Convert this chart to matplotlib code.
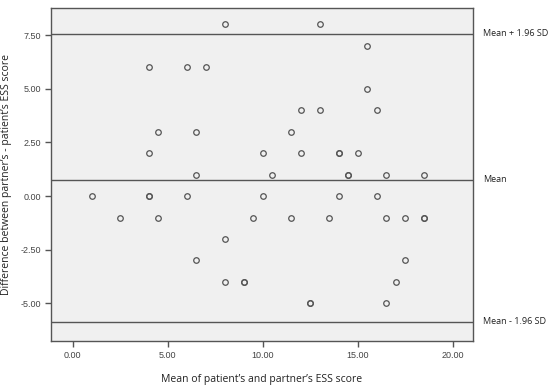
import numpy as np
import matplotlib
matplotlib.use("Agg")
import matplotlib.pyplot as plt

# Bland-Altman data: mean of the two ESS scores vs difference (partner - patient)
mean_score = [8.0, 13.0, 15.5, 4.0, 6.0, 7.0, 15.5, 12.0, 13.0, 16.0,
              4.5, 6.5, 11.5, 4.0, 10.0, 12.0, 14.0, 14.0, 15.0,
              6.5, 10.5, 14.5, 14.5, 16.5, 18.5,
              1.0, 4.0, 4.0, 6.0, 10.0, 14.0, 16.0,
              2.5, 4.5, 9.5, 11.5, 13.5, 16.5, 17.5, 18.5, 18.5,
              8.0, 6.5, 17.5, 8.0, 9.0, 9.0, 17.0, 12.5, 12.5, 16.5]
diff_score = [8, 8, 7, 6, 6, 6, 5, 4, 4, 4,
              3, 3, 3, 2, 2, 2, 2, 2, 2,
              1, 1, 1, 1, 1, 1,
              0, 0, 0, 0, 0, 0, 0,
              -1, -1, -1, -1, -1, -1, -1, -1, -1,
              -2, -3, -3, -4, -4, -4, -4, -5, -5, -5]

mean_diff = 0.75
upper_loa = 7.56
lower_loa = -5.86

x_ticks = [0, 5, 10, 15, 20]
y_ticks = [-5.0, -2.5, 0.0, 2.5, 5.0, 7.5]

line_col = "#555555"

fig = plt.figure(figsize=(5.5, 3.85), dpi=100)
ax = fig.add_axes([0.0927, 0.1135, 0.7673, 0.867])
ax.set_facecolor("#f0f0f0")

for yv in [upper_loa, mean_diff, lower_loa]:
    ax.axhline(yv, color=line_col, lw=1.0, zorder=1)

ax.plot(mean_score, diff_score, linestyle="none", marker="o", markersize=4.0,
        markerfacecolor="none", markeredgecolor="#555555", markeredgewidth=0.9,
        zorder=3)

ax.set_xlim(-1.14, 21.07)
ax.set_ylim(-6.77, 8.79)
ax.set_xticks(x_ticks)
ax.set_xticklabels([f"{v:.2f}" for v in x_ticks])
ax.set_yticks(y_ticks)
ax.set_yticklabels([f"{v:.2f}" for v in y_ticks])

for s in ax.spines.values():
    s.set_color("#555555")
    s.set_linewidth(1.0)
ax.tick_params(direction="out", length=4, width=1, color="#555555",
               labelsize=6.5, labelcolor="#444444", pad=3)
for lab in ax.get_xticklabels() + ax.get_yticklabels():
    lab.set_family("Liberation Sans")

label_font = {"family": "Open Sans", "size": 7.5, "color": "#222222"}
ax.set_xlabel("Mean of patient\u2019s and partner\u2019s ESS score",
              fontdict=label_font, labelpad=10)
ax.set_ylabel("Difference between partner\u2019s - patient\u2019s ESS score",
              fontdict=label_font, labelpad=6)

side_font = {"family": "Open Sans", "size": 6.5, "color": "#222222"}
for yv, txt in [(upper_loa, "Mean + 1.96 SD"), (mean_diff, "Mean"),
                (lower_loa, "Mean - 1.96 SD")]:
    ax.text(1.024, yv, txt, transform=ax.get_yaxis_transform(),
            va="center", ha="left", fontdict=side_font, clip_on=False)

fig.savefig("out.png", dpi=100)
